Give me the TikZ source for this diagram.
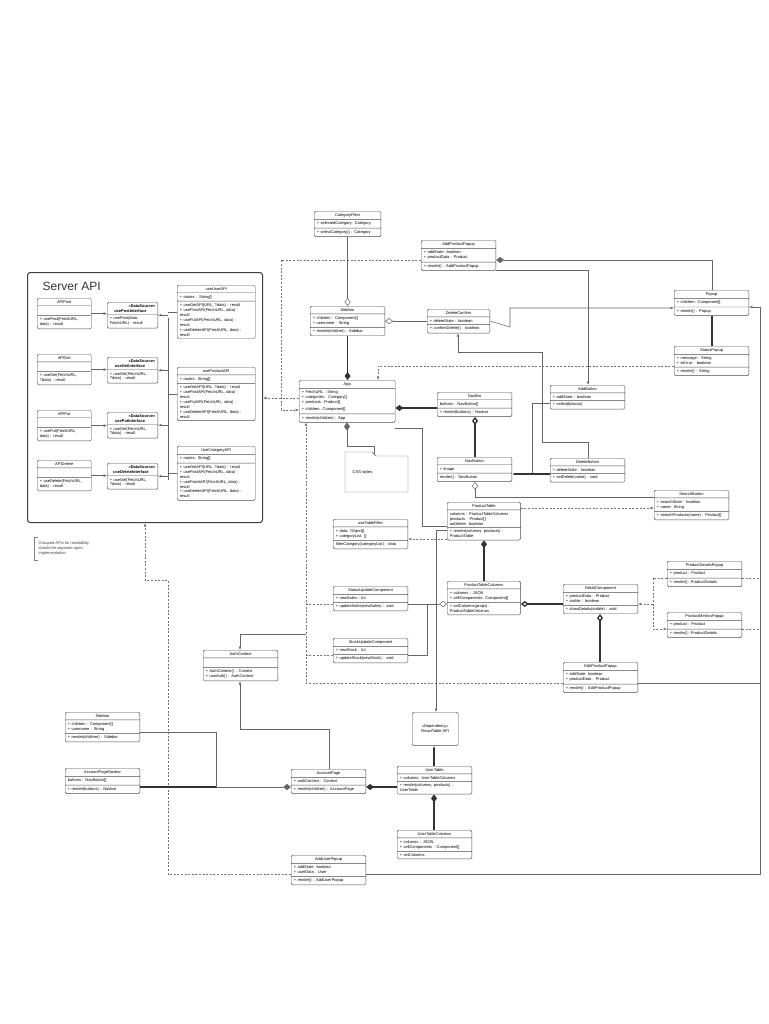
\documentclass[tikz,border=0pt]{standalone}
\usepackage{fontspec}
\setmainfont{Liberation Sans}
\usetikzlibrary{shapes.multipart,arrows.meta,shapes.geometric}
\tikzset{
 cls/.style={rectangle split, rectangle split parts=3, draw=black!70, line width=0.35pt, rounded corners=1pt, anchor=north west, font=\fontsize{3}{3.7}\selectfont, inner xsep=2pt, inner ysep=1.6pt, align=left, fill=white},
 clsb/.style={cls, rectangle split parts=2},
 con/.style={draw=black!60, line width=0.4pt},
 thk/.style={draw=black!80, line width=1pt},
 dsh/.style={draw=black!55, line width=0.4pt, dash pattern=on 1.5pt off 1.2pt},
 ar/.style={-{Latex[length=2.5pt,width=2pt]}},
 od/.style={-{Diamond[open,length=6pt,width=4.5pt]}},
 fd/.style={-{Diamond[length=6pt,width=4.5pt]}},
}
\newcommand\cls[7]{\node[cls, text width=#4] (#1) at (#2,#3) {\hfill #5\hfill\null\nodepart{two}#6\nodepart{three}#7};}
\newcommand\clsb[6]{\node[clsb, text width=#4] (#1) at (#2,#3) {\hfill #5\hfill\null\nodepart{two}#6};}
\begin{document}
\begin{tikzpicture}[x=0.75pt,y=-0.75pt]
\useasboundingbox (0,0) rectangle (768,1024);
% Server API frame
\node[draw=black!75, line width=0.8pt, rounded corners=2pt, minimum width=176.25pt, minimum height=187.5pt, anchor=north west, inner sep=0pt] (srv) at (27,272) {};
\node[anchor=west, font=\fontsize{9}{10}\selectfont, text=black!80] (srvt) at (38,286) {Server API};
\cls{apipost}{37}{298}{36.5pt}{APIPost}{\strut}{+ usePost(FetchURL,\\ data) : result}
\cls{apiget}{37}{354}{36.5pt}{APIGet}{\strut}{+ useGet(FetchURL,\\ ?data) : result}
\cls{apiput}{37}{410}{36.5pt}{APIPut}{\strut}{+ usePut(FetchURL,\\ data) : result}
\cls{apidel}{37}{460}{36.5pt}{APIDelete}{\strut}{+ useDelete(FetchURL,\\ data) : result}
\clsb{ipost}{107}{302}{34pt}{\textbf{<<DataSource>>}\\\hfill\textbf{usePostInterface}\hfill\null}{+ usePost(data,\\ FetchURL) : result}
\clsb{iget}{107}{357}{34pt}{\textbf{<<DataSource>>}\\\hfill\textbf{useGetInterface}\hfill\null}{+ useGet(FetchURL,\\ ?data) : result}
\clsb{iput}{107}{412}{34pt}{\textbf{<<DataSource>>}\\\hfill\textbf{usePutInterface}\hfill\null}{+ useGet(FetchURL,\\ ?data) : result}
\clsb{idel}{107}{463}{34pt}{\textbf{<<DataSource>>}\\\hfill\textbf{useDeleteInterface}\hfill\null}{+ useGet(FetchURL,\\ ?data) : result}
\cls{uuser}{177}{285}{54.5pt}{useUserAPI}{+ routes : String[]}{+ useGetAPI(URL, ?data) : result\\+ usePostAPI(FetchURL, data) :\\result\\+ usePutAPI(FetchURL, data) :\\result\\+ useDeleteAPI(FetchURL, data) :\\result}
\cls{uprod}{177}{367}{54.5pt}{useProductAPI}{+ routes: String[]}{+ useGetAPI(URL, ?data) : result\\+ usePostAPI(FetchURL, data) :\\result\\+ usePutAPI(FetchURL, data) :\\result\\+ useDeleteAPI(FetchURL, data) :\\result}
\cls{ucat}{177}{446}{54.5pt}{UseCategoryAPI}{+ routes: String[]}{+ useGetAPI(URL, ?data) : result\\+ usePostAPI(FetchURL, data) :\\result\\+ usePatchAPI(FetchURL, data) :\\result\\+ useDeleteAPI(FetchURL, data) :\\result}
\foreach \a/\b in {apipost/ipost,apiget/iget,apiput/iput,apidel/idel}{\draw[con,ar] (\a.east) -- (\a.east -| \b.west);}
\coordinate (busT) at (168,318); \coordinate (busB) at (168,480);
\draw[con] (busT) -- (busB);
\foreach \b in {ipost,iget,iput,idel}{\draw[con,ar] (\b.east -| busT) -- (\b.east);}
\foreach \b in {uuser,uprod,ucat}{\draw[con] (\b.west) -- (\b.west -| busT);}
% note
\node[anchor=north west, font=\fontsize{3}{3.7}\selectfont, align=left, text=black!75] (note) at (34,537) {Grouped APIs for readability,\\should be separate upon\\implementation};
\draw[draw=black!50, line width=0.3pt] ([xshift=3pt]note.north west) -- (note.north west) -- (note.south west) -- ([xshift=3pt]note.south west);
% main classes
\cls{catf}{314}{211}{46pt}{CategoryFilter}{+ selectedCategory: Category}{+ selectCategory() : Category}
\cls{addpp}{421}{240}{52pt}{AddProductPopup}{+ addState: boolean\\+ productData : Product}{+ render() : AddProductPopup}
\cls{sideb}{310}{306}{52pt}{Sidebar}{+ children : Component[]\\+ username : String}{+ render(children) : Sidebar}
\cls{delc}{427}{309}{43pt}{DeleteConfirm}{+ deleteState : boolean}{+ confirmDelete() : boolean}
\cls{app}{299}{380}{68pt}{App}{+ FetchURL : String\\+ categories : Category[]\\+ products: Product[]\\[1.5pt]+ children: Component[]}{+ render(children) : App}
\cls{navbar}{437}{392}{52pt}{NavBar}{buttons : NavButton[]}{+ render(buttons) : Navbar}
\cls{popup}{674}{290}{52pt}{Popup}{+ children: Component[]}{+ render() : Popup}
\cls{statp}{674}{346}{52pt}{StatusPopup}{+ message : String\\+ isError : boolean}{+ render() : String}
\cls{addb}{550}{385}{52pt}{AddButton}{+ addState : boolean}{+ setAdd(status)}
\cls{delb}{550}{458}{52pt}{DeleteButton}{+ deleteState : boolean}{+ setDelete(value) : void}
\cls{navbtn}{437}{457}{52pt}{NavButton}{+ image}{render() : NavButton}
\cls{searchb}{654}{490}{52pt}{SearchButton}{+ searchState : boolean\\+ name: String}{+ searchProducts(name) : Product[]}
\cls{ptable}{447}{502}{51pt}{ProductTable}{columns : ProductTableColumns\\products : Product[]\\onDelete: boolean}{+ render(columns, products) :\\ProductTable}
\cls{utf}{333}{519}{52pt}{useTableFilter}{+ data: Object[]\\+ categoryList: []}{filterCategory(categoryList) : data}
\cls{ptc}{447}{581}{51pt}{ProductTableColumns}{+ columns : JSON\\+ cellComponents: Component[]}{+ setColumns(props) :\\ProductTableColumns}
\cls{suc}{333}{586}{52pt}{StatusUpdateComponent}{+ newSales : Int}{+ updateSales(newSales) : void}
\cls{stuc}{333}{638}{52pt}{StockUpdateComponent}{+ newStock : Int}{+ updateStock(newStock) : void}
\cls{detc}{563}{584}{52pt}{DetailComponent}{+ productData : Product\\+ visible : boolean}{+ showDetails(visible) : void}
\cls{pdp}{667}{561}{52pt}{ProductDetailsPopup}{+ product : Product}{+ render(): ProductDetails}
\cls{pmp}{667}{612}{52pt}{ProductMetricsPopup}{+ product : Product}{+ render(): ProductDetails}
\cls{epp}{563}{662}{52pt}{EditProductPopup}{+ editState: boolean\\+ productData : Product}{+ render() : EditProductPopup}
\cls{auth}{203}{650}{52pt}{AuthContext}{\strut}{+ AuthContext() : Context\\+ useAuth() : AuthContext}
\cls{side2}{65}{712}{52pt}{Sidebar}{+ children : Component[]\\+ username : String}{+ render(children) : Sidebar}
\cls{apnav}{65}{768}{52pt}{AccountPageNavbar}{buttons : NavButton[]}{+ render(buttons) : Navbar}
\node[draw=black!70, line width=0.35pt, rounded corners=1.5pt, anchor=north west, minimum width=34.5pt, minimum height=25pt, align=center, font=\fontsize{3}{3.7}\selectfont] (dep) at (412,712) {<<Dependency>>\\ReactTable API};
\cls{accp}{291}{769}{52pt}{AccountPage}{+ authContext : Context}{+ render(children) : AccountPage}
\cls{utab}{397}{766}{52pt}{UserTable}{+ columns: UserTableColumns}{+ render(columns, products) :\\UserTable}
\cls{utc}{397}{830}{52pt}{UserTableColumns}{+ columns : JSON\\+ cellComponents : Component[]}{+ setColumns}
\cls{aup}{291}{855}{52pt}{AddUserPopup}{+ addState: boolean\\+ userData : User}{+ render() : AddUserPopup}
% CSS folder
\draw[draw=black!60, line width=0.35pt] (345,492) -- (345,452) -- (372,452) -- (376,456) -- (408,456) -- (408,492) -- cycle;
\node[anchor=west, font=\fontsize{3}{3.7}\selectfont] (css) at (348,472) {CSS styles};
% connectors
\draw[con,od] (catf.south) -- (catf.south |- sideb.north);
\draw[thk,fd] (sideb.south) -- (sideb.south |- app.north);
\draw[con,od] (delc.west) -- (delc.west -| sideb.east);
\draw[con,ar] (delc.east) -- (510,327) -- (510,308) -- (popup.west |- 0,308);
\draw[con,fd] (712,260) -- (addpp.east |- 0,260);
\draw[con] (712,260) -- (popup.north -| 712,0);
\draw[con,ar] (addpp.east |- 0,270) -- (588,270) -- (addb.north -| 588,0);
\draw[con,ar] (delb.north -| 588,0) -- (588,442) -- (542,442) -- (542,352) -- (458,352) -- (delc.south -| 458,0);
\draw[thk] (statp.north -| 712,0) -- (popup.south -| 712,0);
\draw[dsh,ar] (statp.west |- 0,366) -- (378,366) -- (app.north -| 378,0);
\draw[dsh,ar] (addpp.west |- 0,260) -- (281,260) -- (281,410) -- (app.west |- 0,410);
\draw[dsh,ar] (app.west |- 0,398) -- (srv.east |- 0,398);
\draw[thk,fd] (navbar.west |- 0,408) -- (app.east |- 0,408);
\draw[con,fd] (374,454) -- (374,446) -- (347,446) -- (app.south -| 347,0);
\draw[thk,od] (navbtn.north -| 475,0) -- (navbar.south -| 475,0);
\draw[con] (addb.west |- 0,403) -- (532,403) -- (532,474);
\draw[thk,ar] (delb.west |- 0,474) -- (navbtn.east |- 0,474);
\draw[con,od] (searchb.west |- 0,497) -- (475,497) -- (navbtn.south -| 475,0);
\draw[dsh,ar] (ptable.east |- 0,508) -- (searchb.west |- 0,508);
\draw[dsh,ar] (ptable.west |- 0,539) -- (utf.east |- 0,539);
\draw[con] (app.east |- 0,428) -- (422,428) -- (422,526) -- (ptable.west |- 0,526);
\draw[con,ar] (ptable.west |- 0,530) -- (436,530) -- (dep.north -| 436,0);
\draw[thk,fd] (ptc.north -| 484,0) -- (ptable.south -| 484,0);
\draw[con,od] (suc.east |- 0,604) -- (ptc.west |- 0,604);
\draw[con] (stuc.east |- 0,655) -- (427,655) -- (427,604);
\draw[thk,od] (detc.west |- 0,604) -- (ptc.east |- 0,604);
\draw[thk,od] (epp.north -| 600,0) -- (detc.south -| 600,0);
\draw[dsh,ar] (pdp.west |- 0,578) -- (653,578) -- (653,629) -- (pmp.west |- 0,629);
\draw[dsh,ar] (653,604) -- (detc.east |- 0,604);
\draw[dsh] (pdp.east |- 0,578) -- (760,578);
\draw[dsh] (pmp.east |- 0,629) -- (760,629);
\draw[con,ar] (aup.east |- 0,874) -- (760,874) -- (760,307) -- (popup.east |- 0,307);
\draw[con] (epp.east |- 0,683) -- (760,683);
\draw[dsh,ar] (epp.west |- 0,683) -- (306,683) -- (app.south -| 306,0);
\draw[dsh] (suc.west |- 0,604) -- (306,604);
\draw[dsh] (stuc.west |- 0,655) -- (306,655);
\draw[dsh,ar] (aup.west |- 0,874) -- (168,874) -- (168,580) -- (145,580) -- (srv.south -| 145,0);
\draw[con,ar] (306,634) -- (240,634) -- (auth.north -| 240,0);
\draw[con,ar] (accp.north -| 329,0) -- (329,729) -- (240,729) -- (auth.south -| 240,0);
\draw[con,fd] (side2.east |- 0,732) -- (216,732) -- (216,787) -- (accp.west |- 0,787);
\draw[thk] (apnav.east |- 0,787) -- (216,787);
\draw[thk,fd] (utab.west |- 0,787) -- (accp.east |- 0,787);
\draw[thk,ar] (utab.north -| 434,0) -- (dep.south -| 434,0);
\draw[thk,fd] (utc.north -| 434,0) -- (utab.south -| 434,0);
\end{tikzpicture}
\end{document}
